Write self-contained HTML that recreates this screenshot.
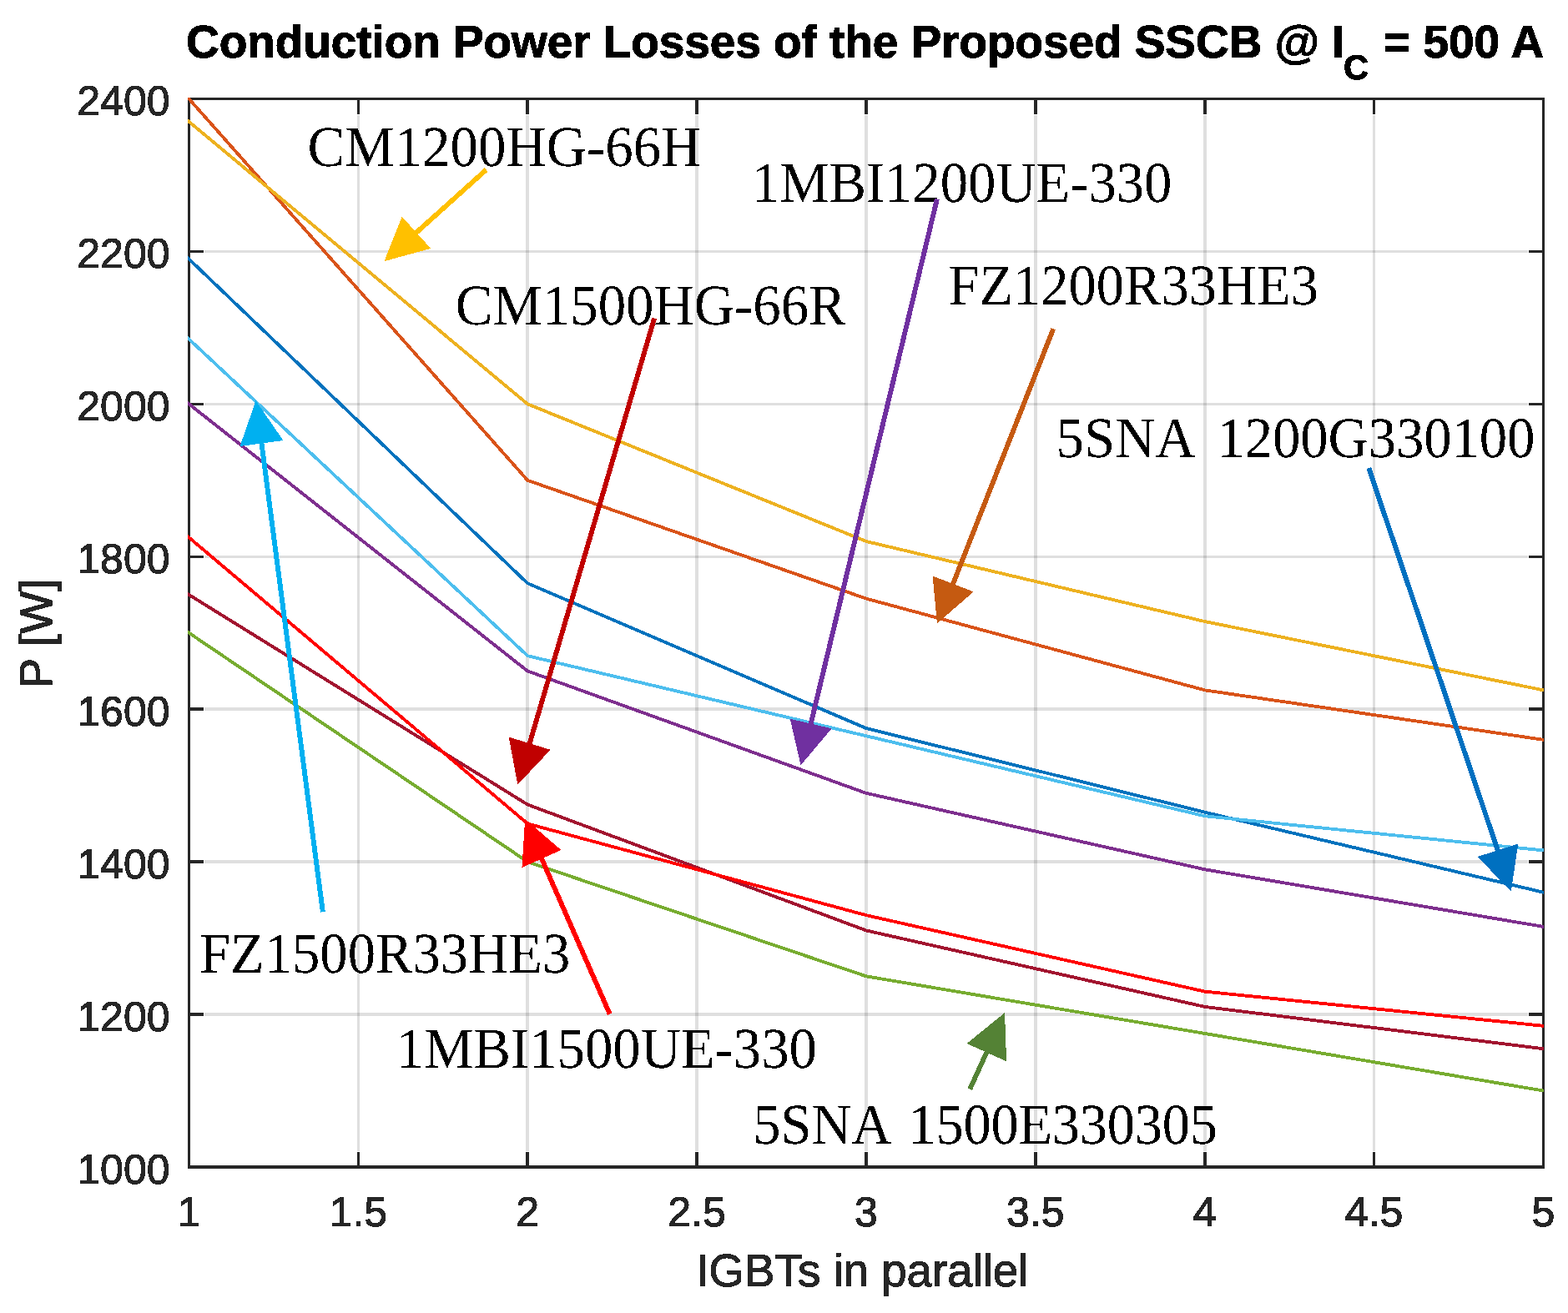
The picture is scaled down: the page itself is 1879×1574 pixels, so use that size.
<!DOCTYPE html>
<html lang="en"><head><meta charset="utf-8">
<title>Conduction Power Losses of the Proposed SSCB @ IC = 500 A</title>
<style>
html,body{margin:0;padding:0;background:#fff;}
body{width:1879px;height:1574px;overflow:hidden;}
svg{display:block;}
.t{font-family:"Liberation Sans",Arial,Helvetica,sans-serif;fill:#262626;stroke:#262626;stroke-width:0.2px;stroke-linejoin:miter;stroke-miterlimit:3;text-rendering:geometricPrecision;}
.a{font-family:"Liberation Serif","Times New Roman",Times,serif;fill:#000;stroke:#000;stroke-width:0.0px;font-size:69.0px;}
</style></head><body>
<svg width="1879" height="1574" viewBox="0 0 1879 1574">
<rect width="1879" height="1574" fill="#fff"/>
<defs><filter id="b" filterUnits="userSpaceOnUse" x="0" y="0" width="1879" height="1574" color-interpolation-filters="sRGB"><feComponentTransfer><feFuncA type="discrete" tableValues="0 1 1 1 1 1 1 1 1 1 1 1 1 1 1 1"/></feComponentTransfer></filter><filter id="b2" filterUnits="userSpaceOnUse" x="0" y="0" width="1879" height="1574" color-interpolation-filters="sRGB"><feComponentTransfer><feFuncA type="discrete" tableValues="0 0 1 1"/></feComponentTransfer></filter></defs>
<g shape-rendering="crispEdges" fill="#262626" fill-opacity="0.15">
<rect x="428" y="138" width="3" height="1242"/>
<rect x="630" y="138" width="4" height="1242"/>
<rect x="833" y="138" width="4" height="1242"/>
<rect x="1036" y="138" width="4" height="1242"/>
<rect x="1239" y="138" width="4" height="1242"/>
<rect x="1442" y="138" width="4" height="1242"/>
<rect x="1645" y="138" width="3" height="1242"/>
<rect x="245" y="300" width="1586" height="3"/>
<rect x="245" y="483" width="1586" height="3"/>
<rect x="245" y="666" width="1586" height="3"/>
<rect x="245" y="848" width="1586" height="4"/>
<rect x="245" y="1031" width="1586" height="4"/>
<rect x="245" y="1214" width="1586" height="4"/>
</g>
<g shape-rendering="crispEdges" fill="#262626">
<rect x="225" y="117" width="1626" height="3"/>
<rect x="225" y="1397" width="1626" height="4"/>
<rect x="225" y="117" width="3" height="1284"/>
<rect x="1848" y="117" width="3" height="1284"/>
<rect x="428" y="117" width="3" height="20"/>
<rect x="428" y="1381" width="3" height="20"/>
<rect x="630" y="117" width="4" height="20"/>
<rect x="630" y="1381" width="4" height="20"/>
<rect x="833" y="117" width="4" height="20"/>
<rect x="833" y="1381" width="4" height="20"/>
<rect x="1036" y="117" width="4" height="20"/>
<rect x="1036" y="1381" width="4" height="20"/>
<rect x="1239" y="117" width="4" height="20"/>
<rect x="1239" y="1381" width="4" height="20"/>
<rect x="1442" y="117" width="4" height="20"/>
<rect x="1442" y="1381" width="4" height="20"/>
<rect x="1645" y="117" width="3" height="20"/>
<rect x="1645" y="1381" width="3" height="20"/>
<rect x="225" y="300" width="19" height="3"/>
<rect x="1832" y="300" width="19" height="3"/>
<rect x="225" y="483" width="19" height="3"/>
<rect x="1832" y="483" width="19" height="3"/>
<rect x="225" y="666" width="19" height="3"/>
<rect x="1832" y="666" width="19" height="3"/>
<rect x="225" y="848" width="19" height="4"/>
<rect x="1832" y="848" width="19" height="4"/>
<rect x="225" y="1031" width="19" height="4"/>
<rect x="1832" y="1031" width="19" height="4"/>
<rect x="225" y="1214" width="19" height="4"/>
<rect x="1832" y="1214" width="19" height="4"/>
</g>
<defs><clipPath id="c"><rect x="225" y="117" width="1625" height="1284"/></clipPath></defs>
<g clip-path="url(#c)" shape-rendering="crispEdges" fill="none" stroke-width="3.85" stroke-linejoin="round" stroke-linecap="butt">
<polyline stroke="#0072BD" points="220.50,304.83 226.50,310.57 632.25,699.30 1038.00,873.08 1443.75,973.69 1849.50,1069.73 1855.50,1071.15"/>
<polyline stroke="#D95319" points="220.50,111.74 226.50,118.50 632.25,575.82 1038.00,717.59 1443.75,827.35 1849.50,886.80 1855.50,887.68"/>
<polyline stroke="#EDB120" points="220.50,140.93 226.50,145.94 632.25,484.36 1038.00,648.99 1443.75,745.03 1849.50,827.35 1855.50,828.57"/>
<polyline stroke="#7E2F8E" points="220.50,479.62 226.50,484.36 632.25,804.48 1038.00,950.83 1443.75,1042.29 1849.50,1110.89 1855.50,1111.90"/>
<polyline stroke="#77AC30" points="220.50,754.69 226.50,758.75 632.25,1033.14 1038.00,1170.34 1443.75,1238.94 1849.50,1307.54 1855.50,1308.55"/>
<polyline stroke="#4DBEEE" points="220.50,401.00 226.50,406.61 632.25,786.19 1038.00,882.23 1443.75,978.26 1849.50,1019.42 1855.50,1020.03"/>
<polyline stroke="#A2142F" points="220.50,709.30 226.50,713.02 632.25,964.54 1038.00,1115.46 1443.75,1206.92 1849.50,1257.23 1855.50,1257.97"/>
<polyline stroke="#FF0000" points="220.50,639.35 226.50,644.42 632.25,987.41 1038.00,1097.17 1443.75,1188.63 1849.50,1229.79 1855.50,1230.40"/>
</g>
<g filter="url(#b2)" text-rendering="geometricPrecision">
<text class="a" transform="translate(368.60,198.90) scale(0.9691,1.0)">CM1200HG-66H</text>
<text class="a" transform="translate(900.90,241.90) scale(0.9658,1.0)">1MBI1200UE-330</text>
<text class="a" transform="translate(545.80,388.90) scale(0.9686,1.0)">CM1500HG-66R</text>
<text class="a" transform="translate(1136.40,364.90) scale(0.9643,1.0)">FZ1200R33HE3</text>
<text class="a" transform="translate(1265.60,547.90) scale(0.9682,1.0)">5SNA <tspan x="199.24" style="letter-spacing:-0.140px">1200G330100</tspan></text>
<text class="a" transform="translate(238.90,1165.90) scale(0.9662,1.0)">FZ1500R33HE3</text>
<text class="a" transform="translate(474.90,1279.90) scale(0.9667,1.0)">1MBI1500UE-330</text>
<text class="a" transform="translate(902.30,1370.90) scale(0.9643,1.0)">5SNA <tspan x="193.09" style="letter-spacing:-0.300px">1500E330305</tspan></text>
</g>
<g shape-rendering="crispEdges" fill="#FFC000" stroke="#FFC000"><line x1="582.57" y1="203.57" x2="493.03" y2="284.07" stroke-width="5.9"/><polygon stroke="none" points="481.71,259.71 516.18,297.85 460.45,313.20"/></g>
<g shape-rendering="crispEdges" fill="#C00000" stroke="#C00000"><line x1="784.14" y1="381.52" x2="632.47" y2="898.76" stroke-width="5.9"/><polygon stroke="none" points="609.69,883.51 659.67,898.79 620.33,940.68"/></g>
<g shape-rendering="crispEdges" fill="#7030A0" stroke="#7030A0"><line x1="1122.92" y1="238.51" x2="969.81" y2="875.21" stroke-width="5.9"/><polygon stroke="none" points="946.74,861.71 996.60,873.39 959.56,917.33"/></g>
<g shape-rendering="crispEdges" fill="#C55A11" stroke="#C55A11"><line x1="1262.18" y1="394.33" x2="1139.18" y2="707.23" stroke-width="5.9"/><polygon stroke="none" points="1117.65,690.51 1166.59,709.33 1122.98,747.46"/></g>
<g shape-rendering="crispEdges" fill="#0070C0" stroke="#0070C0"><line x1="1640.24" y1="561.03" x2="1797.36" y2="1026.86" stroke-width="5.9"/><polygon stroke="none" points="1770.57,1027.03 1819.27,1011.53 1810.78,1068.57"/></g>
<g shape-rendering="crispEdges" fill="#00B0F0" stroke="#00B0F0"><line x1="386.86" y1="1093.30" x2="312.42" y2="523.63" stroke-width="5.9"/><polygon stroke="none" points="287.55,534.99 339.44,528.01 306.52,480.31"/></g>
<g shape-rendering="crispEdges" fill="#FF0000" stroke="#FF0000"><line x1="730.70" y1="1215.66" x2="645.93" y2="1022.15" stroke-width="5.9"/><polygon stroke="none" points="672.49,1019.01 625.48,1040.01 629.17,981.65"/></g>
<g shape-rendering="crispEdges" fill="#548235" stroke="#548235"><line x1="1162.19" y1="1305.75" x2="1185.64" y2="1254.32" stroke-width="5.9"/><polygon stroke="none" points="1158.56,1251.00 1206.07,1272.26 1204.00,1214.05"/></g>
<g class="t" filter="url(#b)" font-size="50.0">
<text x="226.50" y="1470.30" text-anchor="middle">1</text>
<text x="429.38" y="1470.30" text-anchor="middle">1.5</text>
<text x="632.25" y="1470.30" text-anchor="middle">2</text>
<text x="835.12" y="1470.30" text-anchor="middle">2.5</text>
<text x="1038.00" y="1470.30" text-anchor="middle">3</text>
<text x="1240.88" y="1470.30" text-anchor="middle">3.5</text>
<text x="1443.75" y="1470.30" text-anchor="middle">4</text>
<text x="1646.62" y="1470.30" text-anchor="middle">4.5</text>
<text x="1849.50" y="1470.30" text-anchor="middle">5</text>
<text x="203.50" y="1418.70" text-anchor="end">1000</text>
<text x="203.50" y="1235.77" text-anchor="end">1200</text>
<text x="203.50" y="1052.84" text-anchor="end">1400</text>
<text x="203.50" y="869.91" text-anchor="end">1600</text>
<text x="203.50" y="686.99" text-anchor="end">1800</text>
<text x="203.50" y="504.06" text-anchor="end">2000</text>
<text x="203.50" y="321.13" text-anchor="end">2200</text>
<text x="203.50" y="138.20" text-anchor="end">2400</text>
</g>
<g filter="url(#b)"><text class="t" font-size="55.0" transform="translate(1033.40,1542.00) scale(0.994,1)" text-anchor="middle">IGBTs in parallel</text></g>
<g filter="url(#b)"><text class="t" font-size="55.0" transform="translate(61.70,759.40) rotate(-90) scale(0.983,1)" text-anchor="middle">P [W]</text></g>
<g class="t" filter="url(#b)" style="fill:#000;stroke:#000;stroke-width:0.2px" font-weight="bold" font-size="55.0">
<text y="68.60"><tspan x="223.00" style="letter-spacing:-0.0780px">Conduction Power Losses of the Proposed SSCB @ I</tspan><tspan x="1610.00" y="95.20" font-size="41.5">C</tspan><tspan x="1642.71" y="68.60"> = 500 A</tspan></text>
</g>
</svg></body></html>
